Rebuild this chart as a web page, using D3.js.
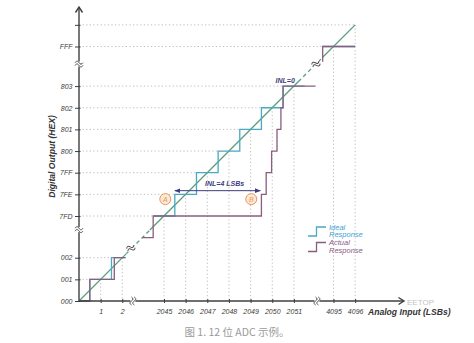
<!DOCTYPE html>
<html>
<head>
<meta charset="utf-8">
<script src="https://cdn.jsdelivr.net/npm/d3@7"></script>
<style>
  html, body { margin: 0; padding: 0; background: #fff; }
  svg { display: block; font-family: "Liberation Sans", Arial, sans-serif; }
</style>
</head>
<body>
<div id="chart"></div>
<script>
// Tick values (input in LSBs, output codes as integers) and their labels
const xTickValues = [1, 2, 2045, 2046, 2047, 2048, 2049, 2050, 2051, 4095, 4096];
const xTickLabels = ["1", "2", "2045", "2046", "2047", "2048", "2049", "2050", "2051", "4095", "4096"];
const yTickValues = [0, 1, 2, 2045, 2046, 2047, 2048, 2049, 2050, 2051, 4095, 4096];
const yTickLabels = ["000", "001", "002", "7FD", "7FE", "7FF", "800", "801", "802", "803", "FFF", ""];

// Staircases as [input where the code starts, code] (step-after)
const idealLow = [[0, 0], [0.5, 1], [1.5, 2], [2.15, 2]];
const actualLow = [[0, 0], [0.5, 1], [1.63, 2], [2.15, 2]];
const idealMid = [[2044.5, 2045], [2045.5, 2046], [2046.5, 2047], [2047.5, 2048],
                  [2048.5, 2049], [2049.5, 2050], [2050.5, 2051], [2051.5, 2051]];
const actualMid = [[2044.0, 2044], [2044.5, 2045], [2049.5, 2046], [2049.72, 2047],
                   [2049.97, 2048], [2050.22, 2049], [2050.4, 2050], [2050.5, 2051], [2052, 2051]];
const idealTop = [[4094.5, 4095], [4096, 4095]];
const actualTop = [[4094.5, 4094.3], [4094.5, 4095], [4096, 4095]];

// Ideal transfer line y = x: solid pieces, dashed in between across the breaks
const lineSolid = [[0, 2.2], [2044.35, 2051.2], [4094.5, 4096]];
const lineDashed = [[2.2, 2044.35], [2051.2, 4094.5]];

// INL annotation: ideal transition A, actual transition B
const inlFrom = 2045.5, inlTo = 2049.45, inlValue = 4;

const W = 474, H = 343;
const ox = 79, oy = 301, U = 21.65;

// Broken axes: three linear pieces with the same unit, joined across narrow gaps
const breaks = [0, 2.45, 2043.6, 2052, 4094.3, 4096];
function offset(n) {
  if (n <= 2.45) return n * U;
  if (n <= 2052) return 85 + (n - 2045) * U;
  return 254.5 + (n - 4095) * U;
}
const x = d3.scaleLinear().domain(breaks).range(breaks.map(b => ox + offset(b)));
const y = d3.scaleLinear().domain(breaks).range(breaks.map(b => oy - offset(b)));

const C = {
  axis: "#3f3f3f", grid: "#b4b4b4", ideal: "#4aa8c2", actual: "#8a5d7e",
  line: "#5a9e7c", navy: "#3e3e7e", orange: "#e69a5c", label: "#3a3a3a"
};

const svg = d3.select("#chart").append("svg").attr("width", W).attr("height", H);

// Dotted guides
const grid = svg.append("g").attr("stroke", C.grid).attr("stroke-width", 0.9)
  .attr("stroke-dasharray", "1.2,2.4").attr("fill", "none");
xTickValues.forEach(v => {
  grid.append("line").attr("x1", x(v)).attr("x2", x(v)).attr("y1", y(v)).attr("y2", oy);
});
yTickValues.filter(v => v > 0).forEach(v => {
  const end = v === 4096 ? 4096 : v - 0.5;
  grid.append("line").attr("x1", ox).attr("x2", x(end)).attr("y1", y(v)).attr("y2", y(v));
});

// Ideal line
const lineGen = d3.line().x(d => x(d)).y(d => y(d));
lineSolid.forEach(r => {
  svg.append("path").attr("d", lineGen(r)).attr("stroke", C.line).attr("stroke-width", 1.3).attr("fill", "none");
});
lineDashed.forEach(r => {
  svg.append("path").attr("d", lineGen(r)).attr("stroke", C.line).attr("stroke-width", 1.3)
    .attr("stroke-dasharray", "4,3").attr("fill", "none");
});

// Staircases
const step = d3.line().x(d => x(d[0])).y(d => y(d[1])).curve(d3.curveStepAfter);
[idealLow, idealMid, idealTop].forEach(s => {
  svg.append("path").attr("d", step(s)).attr("stroke", C.ideal).attr("stroke-width", 1.3).attr("fill", "none");
});
[actualLow, actualMid, actualTop].forEach(s => {
  svg.append("path").attr("d", step(s)).attr("stroke", C.actual).attr("stroke-width", 1.3).attr("fill", "none");
});

// Axes
const xAxis = d3.axisBottom(x).tickValues(xTickValues)
  .tickFormat((d, i) => xTickLabels[i]).tickSize(2).tickPadding(6);
const gx = svg.append("g").attr("transform", `translate(0,${oy})`).call(xAxis);
gx.select(".domain").remove();
gx.selectAll(".tick line").attr("y1", -2).attr("y2", 2).attr("stroke", C.axis);
gx.selectAll(".tick text").attr("font-size", 7).attr("font-style", "italic")
  .attr("fill", C.label).attr("font-family", "Liberation Sans, Arial, sans-serif");

const yAxis = d3.axisLeft(y).tickValues(yTickValues)
  .tickFormat((d, i) => yTickLabels[i]).tickSize(4).tickPadding(2.5);
const gy = svg.append("g").attr("transform", `translate(${ox},0)`).call(yAxis);
gy.select(".domain").remove();
gy.selectAll(".tick line").attr("x1", -4).attr("x2", 1.5).attr("stroke", C.axis);
gy.selectAll(".tick text").attr("font-size", 7).attr("font-style", "italic")
  .attr("fill", C.label).attr("font-family", "Liberation Sans, Arial, sans-serif");

const axisG = svg.append("g").attr("stroke", C.axis).attr("stroke-width", 1.4).attr("fill", "none");
axisG.append("line").attr("x1", ox).attr("x2", ox).attr("y1", oy).attr("y2", 7);
axisG.append("path").attr("d", `M${ox - 3.5},12.5 L${ox},7 L${ox + 3.5},12.5`);
axisG.append("line").attr("x1", ox).attr("x2", 404).attr("y1", oy).attr("y2", oy);
axisG.append("path").attr("d", `M398.5,${oy - 3.5} L404,${oy} L398.5,${oy + 3.5}`);

// Break marks
function breakMark(cx, cy, rot) {
  const g = svg.append("g").attr("transform", `translate(${cx},${cy}) rotate(${rot})`);
  g.append("rect").attr("x", -4).attr("y", -2.5).attr("width", 8).attr("height", 5).attr("fill", "#fff");
  [-1.4, 1.4].forEach(dy => {
    g.append("path")
      .attr("d", `M-4,${dy} C-2.7,${dy - 2} -1.3,${dy - 2} 0,${dy} S2.7,${dy + 2} 4,${dy}`)
      .attr("stroke", "#4a4a4a").attr("stroke-width", 1).attr("fill", "none");
  });
}
breakMark(ox, y(2044) - 8, 0);
breakMark(ox, (y(2052) + y(4094.3)) / 2 + 1, 0);
breakMark((x(2.45) + x(2043.6)) / 2, oy, 90);
breakMark((x(2052) + x(4094.3)) / 2, oy, 90);
breakMark((x(2.45) + x(2043.6)) / 2 - 2, (y(2.45) + y(2043.6)) / 2 + 1, -25);
breakMark((x(2052) + x(4094.3)) / 2 - 1, (y(2052) + y(4094.3)) / 2 + 1, -25);

// INL annotation
const ay = y(2046.17);
svg.append("defs").append("marker").attr("id", "ah").attr("viewBox", "0 0 6 6")
  .attr("refX", 5.5).attr("refY", 3).attr("markerWidth", 6).attr("markerHeight", 6)
  .attr("orient", "auto-start-reverse")
  .append("path").attr("d", "M0,0.6 L6,3 L0,5.4 Z").attr("fill", C.navy);
svg.append("line").attr("x1", x(inlFrom)).attr("x2", x(inlTo)).attr("y1", ay).attr("y2", ay)
  .attr("stroke", C.navy).attr("stroke-width", 1)
  .attr("marker-start", "url(#ah)").attr("marker-end", "url(#ah)");
svg.append("text").attr("x", (x(inlFrom) + x(inlTo)) / 2 + 7).attr("y", ay - 4.5)
  .attr("text-anchor", "middle").attr("font-size", 7).attr("font-weight", "bold")
  .attr("font-style", "italic").attr("fill", C.navy).text(`INL=${inlValue} LSBs`);
svg.append("text").attr("x", x(2050.6)).attr("y", y(2051) - 3.5)
  .attr("text-anchor", "middle").attr("font-size", 7).attr("font-weight", "bold")
  .attr("font-style", "italic").attr("fill", C.navy).text("INL=0");

// Point markers A and B
[["A", 2045.06], ["B", 2049.03]].forEach(([t, v]) => {
  const g = svg.append("g").attr("transform", `translate(${x(v)},${y(2045.78)})`);
  g.append("circle").attr("r", 5.5).attr("fill", "#fde9d6").attr("stroke", C.orange).attr("stroke-width", 1);
  g.append("text").attr("y", 2.5).attr("text-anchor", "middle").attr("font-size", 7)
    .attr("font-style", "italic").attr("fill", C.orange).text(t);
});

// Legend
const legend = [["Ideal", "Response", C.ideal, "#3f9fd4"], ["Actual", "Response", C.actual, "#8a5a88"]];
legend.forEach(([a, b, col, tcol], i) => {
  const ly = 227 + i * 15.5;
  svg.append("path").attr("d", `M308,${ly + 9} H316.5 V${ly} H326`)
    .attr("stroke", col).attr("stroke-width", 1.3).attr("fill", "none");
  const t = svg.append("text").attr("x", 329).attr("y", ly + 2.5).attr("font-size", 7.5)
    .attr("font-style", "italic").attr("fill", tcol);
  t.append("tspan").attr("x", 329).text(a);
  t.append("tspan").attr("x", 329).attr("dy", 7.6).text(b);
});

// Axis titles
svg.append("text").attr("transform", `translate(55,156.5) rotate(-90)`)
  .attr("text-anchor", "middle").attr("font-size", 8.6).attr("font-weight", "bold")
  .attr("font-style", "italic").attr("fill", "#333").text("Digital Output (HEX)");
svg.append("text").attr("x", 368).attr("y", 314.5).attr("font-size", 8.6)
  .attr("font-weight", "bold").attr("font-style", "italic").attr("fill", "#333")
  .text("Analog Input (LSBs)");

// Site mark
svg.append("text").attr("x", 407).attr("y", 304.5).attr("font-size", 8)
  .attr("fill", "#c4c4c4").text("EETOP");

// Caption
svg.append("text").attr("x", 237).attr("y", 336).attr("text-anchor", "middle")
  .attr("font-size", 10.5).attr("fill", "#9a9a9a")
  .attr("font-family", "Noto Sans CJK SC, sans-serif").text("图 1. 12 位 ADC 示例。");
</script>
</body>
</html>
